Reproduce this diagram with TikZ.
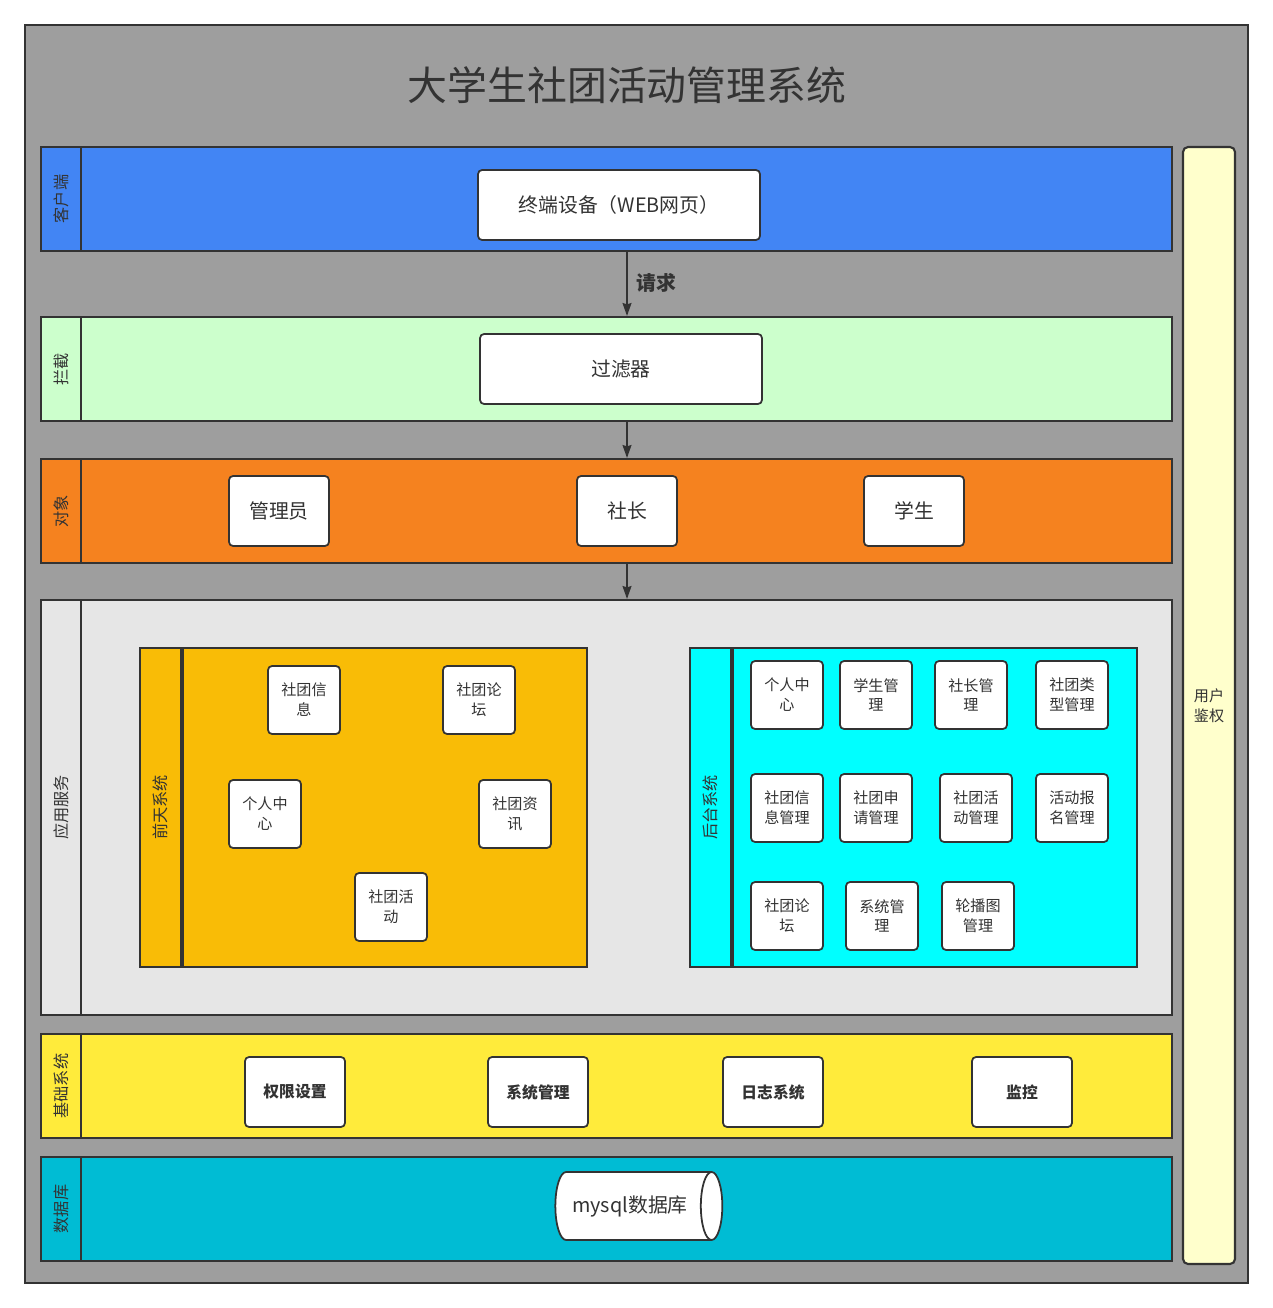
\documentclass[tikz,border=0pt]{standalone}
\usepackage{fontspec}
\setmainfont{Noto Sans CJK SC}
\usetikzlibrary{arrows.meta,fit,shapes.geometric}

\definecolor{linegray}{HTML}{333333}
\definecolor{textgray}{HTML}{333333}
\definecolor{framegray}{HTML}{9E9E9E}
\definecolor{clientblue}{HTML}{4285F4}
\definecolor{filtergreen}{HTML}{CCFFCC}
\definecolor{userorange}{HTML}{F5821F}
\definecolor{appgray}{HTML}{E6E6E6}
\definecolor{frontgold}{HTML}{F9BC06}
\definecolor{backcyan}{HTML}{00FFFF}
\definecolor{baseyellow}{HTML}{FFEB3B}
\definecolor{dbteal}{HTML}{00BCD4}
\definecolor{authpale}{HTML}{FFFFCC}

\begin{document}
\begin{tikzpicture}[x=0.02cm,y=-0.02cm,
  lane/.style={draw=linegray, line width=1.2pt, inner sep=0pt},
  lanelabel/.style={rotate=90, text=textgray, font=\fontsize{9.2}{11}\selectfont},
  box/.style={draw=linegray, fill=white, rounded corners=0.08cm, line width=1pt, text=textgray, align=center},
  bigbox/.style={box, minimum width=5.64cm, minimum height=1.4cm, font=\fontsize{11.3}{14}\selectfont},
  midbox/.style={box, minimum width=2cm, minimum height=1.4cm, font=\fontsize{11.3}{14}\selectfont},
  basebox/.style={box, minimum width=2cm, minimum height=1.4cm, font=\fontsize{9}{11}\selectfont\bfseries},
  smallbox/.style={box, minimum width=1.44cm, minimum height=1.36cm, font=\fontsize{8.6}{11.3}\selectfont},
  flow/.style={draw=linegray, line width=0.9pt, -{Stealth[length=0.26cm,width=0.18cm,inset=0.03cm]}}
]
  \useasboundingbox (0,0) rectangle (1273,1308);

  \node[lane, fill=framegray, fit={(25,25)(1248,1283)}] (frame) {};
  \node[text=textgray, font=\fontsize{22.7}{27}\selectfont] (title) at (627,85) {大学生社团活动管理系统};

  % lanes
  \node[lane, fill=clientblue, fit={(41,147)(1172,251)}] (client) {};
  \node[lane, fill=clientblue, fit={(41,147)(81,251)}] (clienthd) {};
  \node[lanelabel] at (clienthd) {客户端};

  \node[lane, fill=filtergreen, fit={(41,317)(1172,421)}] (intercept) {};
  \node[lane, fill=filtergreen, fit={(41,317)(81,421)}] (intercepthd) {};
  \node[lanelabel] at (intercepthd) {拦截};

  \node[lane, fill=userorange, fit={(41,459)(1172,563)}] (role) {};
  \node[lane, fill=userorange, fit={(41,459)(81,563)}] (rolehd) {};
  \node[lanelabel] at (rolehd) {对象};

  \node[lane, fill=appgray, fit={(41,600)(1172,1015)}] (app) {};
  \node[lane, fill=appgray, fit={(41,600)(81,1015)}] (apphd) {};
  \node[lanelabel] at (apphd) {应用服务};

  \node[lane, fill=baseyellow, fit={(41,1034)(1172,1138)}] (base) {};
  \node[lane, fill=baseyellow, fit={(41,1034)(81,1138)}] (basehd) {};
  \node[lanelabel] at (basehd) {基础系统};

  \node[lane, fill=dbteal, fit={(41,1157)(1172,1261)}] (db) {};
  \node[lane, fill=dbteal, fit={(41,1157)(81,1261)}] (dbhd) {};
  \node[lanelabel] at (dbhd) {数据库};

  \node[lane, fill=authpale, rounded corners=0.1cm, fit={(1183,147)(1235,1264)}] (auth) {};
  \node[text=textgray, align=center, font=\fontsize{8.6}{11.3}\selectfont] at (auth) {用户\\鉴权};

  % client / filter / roles
  \node[bigbox] (terminal) at (619,205) {终端设备（WEB网页）};
  \node[bigbox] (filter) at (621,369) {过滤器};
  \node[midbox] (admin) at (279,511) {管理员};
  \node[midbox] (leader) at (627,511) {社长};
  \node[midbox] (student) at (914,511) {学生};

  \coordinate (ax) at (627,0);
  \draw[flow] (client.south -| ax) -- (intercept.north -| ax);
  \node[text=textgray, font=\fontsize{11.3}{14}\selectfont\bfseries] at (656,283) {请求};
  \draw[flow] (intercept.south -| ax) -- (role.north -| ax);
  \draw[flow] (role.south -| ax) -- (app.north -| ax);

  % front system
  \node[lane, line width=1pt, fill=frontgold, fit={(140,648)(181,967)}] (fronthd) {};
  \node[lane, line width=1pt, fill=frontgold, fit={(183,648)(587,967)}] (front) {};
  \node[lanelabel] at (fronthd) {前天系统};
  \node[smallbox] (fclubinfo) at (304,700) {社团信\\息};
  \node[smallbox] (fforum) at (479,700) {社团论\\坛};
  \node[smallbox] (fpersonal) at (265,814) {个人中\\心};
  \node[smallbox] (fnews) at (515,814) {社团资\\讯};
  \node[smallbox] (factivity) at (391,907) {社团活\\动};

  % back system
  \node[lane, line width=1pt, fill=backcyan, fit={(690,648)(731,967)}] (backhd) {};
  \node[lane, line width=1pt, fill=backcyan, fit={(733,648)(1137,967)}] (back) {};
  \node[lanelabel] at (backhd) {后台系统};
  \node[smallbox] (bpersonal) at (787,695) {个人中\\心};
  \node[smallbox] (bstudent) at (876,695) {学生管\\理};
  \node[smallbox] (bleader) at (971,695) {社长管\\理};
  \node[smallbox] (btype) at (1072,695) {社团类\\型管理};
  \node[smallbox] (bclubinfo) at (787,808) {社团信\\息管理};
  \node[smallbox] (bapply) at (876,808) {社团申\\请管理};
  \node[smallbox] (bactivity) at (976,808) {社团活\\动管理};
  \node[smallbox] (bsignup) at (1072,808) {活动报\\名管理};
  \node[smallbox] (bforum) at (787,916) {社团论\\坛};
  \node[smallbox] (bsystem) at (882,916) {系统管\\理};
  \node[smallbox] (bbanner) at (978,916) {轮播图\\管理};

  % base system
  \node[basebox] (perm) at (295,1092) {权限设置};
  \node[basebox] (sysmgr) at (538,1092) {系统管理};
  \node[basebox] (log) at (773,1092) {日志系统};
  \node[basebox] (monitor) at (1022,1092) {监控};

  % database
  \node[cylinder, draw=linegray, fill=white, line width=1pt, text=textgray,
        minimum width=1.36cm, minimum height=3.34cm, shape aspect=0.65,
        font=\fontsize{11.3}{14}\selectfont] (mysql) at (630,1206) {mysql数据库};
\end{tikzpicture}
\end{document}
